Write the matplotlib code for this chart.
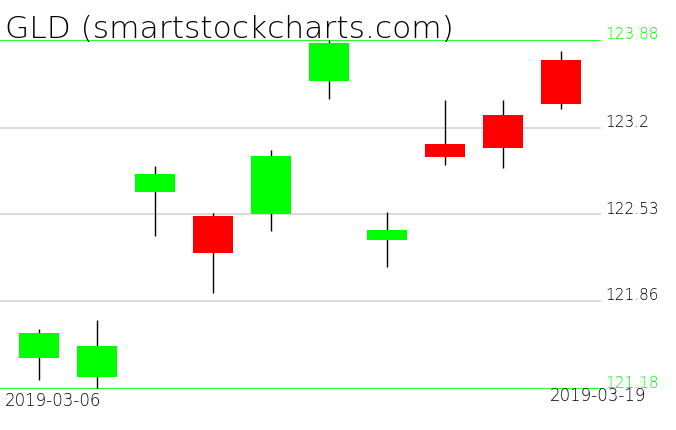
import matplotlib
matplotlib.use("Agg")
import matplotlib.pyplot as plt
import matplotlib.transforms as mtransforms

dates = ["2019-03-06", "2019-03-07", "2019-03-08", "2019-03-11", "2019-03-12",
         "2019-03-13", "2019-03-14", "2019-03-15", "2019-03-18", "2019-03-19"]
opens = [121.42, 121.27, 122.70, 122.52, 122.53, 123.56, 122.33, 123.07, 123.30, 123.72]
highs = [121.64, 121.71, 122.90, 122.54, 123.03, 123.88, 122.55, 123.41, 123.41, 123.79]
lows = [121.25, 121.18, 122.36, 121.92, 122.40, 123.42, 122.12, 122.91, 122.89, 123.34]
closes = [121.61, 121.51, 122.84, 122.23, 122.98, 123.85, 122.41, 122.97, 123.04, 123.38]
level_values = [123.88, 123.2, 122.53, 121.86, 121.18]
level_labels = ["123.88", "123.2", "122.53", "121.86", "121.18"]
title = "GLD (smartstockcharts.com)"

FONT = "DejaVu Sans"
WEIGHT = 200

W, H = 676, 431
fig = plt.figure(figsize=(W / 100, H / 100), dpi=100)
ax = fig.add_axes([0, (H - 390) / H, 601 / W, (390 - 40.5) / H])
ax.set_xlim(-39 / 58, 9 + 40 / 58)
ax.set_ylim(level_values[-1], level_values[0])
ax.axis("off")

GREEN = "#00ff00"
RED = "#ff0000"

# level lines
for i, v in enumerate(level_values):
    col = GREEN if i in (0, len(level_values) - 1) else "#d3d3d3"
    ax.axhline(v, color=col, lw=1.2, zorder=1)

bw = 0.69
for i in range(len(dates)):
    o, h, l, c = opens[i], highs[i], lows[i], closes[i]
    up = c >= o
    ax.vlines(i, l, h, color="black", lw=1.0, zorder=2)
    ax.bar(i, abs(c - o), bottom=min(o, c), width=bw,
           color=GREEN if up else RED, zorder=3, linewidth=0)

# right labels (baseline sitting just above each level line)
trans = mtransforms.blended_transform_factory(fig.transFigure, ax.transData)
off = mtransforms.ScaledTranslation(0, 1.5 / 100, fig.dpi_scale_trans)
for i, (v, lab) in enumerate(zip(level_values, level_labels)):
    col = GREEN if i in (0, len(level_values) - 1) else "black"
    fig.text(605 / W, v, lab, transform=trans + off, ha="left", va="baseline",
             fontsize=11, color=col, family=FONT, fontweight=WEIGHT)

# date labels
fig.text(5 / W, 1 - 406 / H, dates[0], ha="left", va="baseline", fontsize=12,
         family=FONT, fontweight=WEIGHT)
fig.text(646 / W, 1 - 401 / H, dates[-1], ha="right", va="baseline", fontsize=12,
         family=FONT, fontweight=WEIGHT)

fig.text(5 / W, 1 - 38 / H, title, ha="left", va="baseline", fontsize=22.5,
         family=FONT, fontweight=WEIGHT)

fig.savefig("out.png", dpi=100)
